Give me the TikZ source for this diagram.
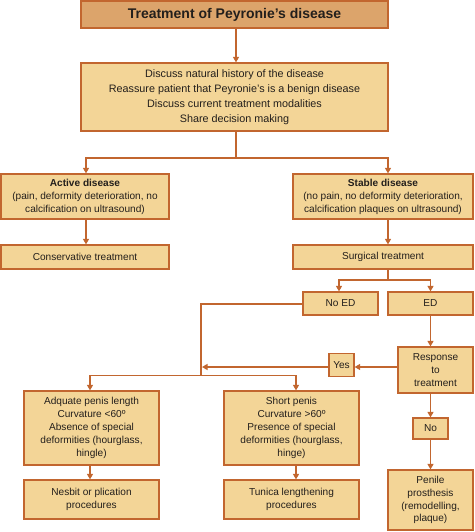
\documentclass[tikz,border=0pt]{standalone}
\usepackage{fontspec}
\setmainfont{Liberation Sans}
\usetikzlibrary{arrows.meta}
\definecolor{edge}{HTML}{C2662F}
\definecolor{boxfill}{HTML}{F3D597}
\definecolor{titlefill}{HTML}{DCA46B}
\definecolor{ink}{HTML}{231F1C}
\tikzset{
  box/.style={draw=edge, fill=boxfill, line width=1.2pt, inner sep=1pt, align=center,
    text=ink, font=\fontsize{10.1}{12.9}\selectfont},
  titlebox/.style={box, fill=titlefill, font=\fontsize{14}{16}\selectfont\bfseries},
  discbox/.style={box, font=\fontsize{10.8}{15}\selectfont},
  conn/.style={draw=edge, line width=1.2pt},
  arr/.style={conn, -{Triangle[length=5.5pt,width=6pt]}},
}
\begin{document}
\begin{tikzpicture}[x=1pt,y=-1pt]
\useasboundingbox (0,0) rectangle (474,532);
\node[titlebox, minimum width=307pt, minimum height=27pt] (title) at (234.5,14.5) {Treatment of Peyronie’s disease};
\node[discbox, minimum width=307pt, minimum height=68pt] (disc) at (234.5,97) {Discuss natural history of the disease\\Reassure patient that Peyronie’s is a benign disease\\Discuss current treatment modalities\\Share decision making};
\node[box, minimum width=168pt, minimum height=45pt] (active) at (85,196.5) {\textbf{Active disease}\\(pain, deformity deterioration, no\\calcification on ultrasound)};
\node[box, minimum width=180pt, minimum height=45pt] (stable) at (383,196.5) {\textbf{Stable disease}\\(no pain, no deformity deterioration,\\calcification plaques on ultrasound)};
\node[box, minimum width=168pt, minimum height=24pt] (cons) at (85,257) {Conservative treatment};
\node[box, minimum width=180pt, minimum height=24pt] (surg) at (383,257) {Surgical treatment};
\node[box, minimum width=75pt, minimum height=23pt] (noed) at (340.5,303.5) {No ED};
\node[box, minimum width=85pt, minimum height=23pt] (ed) at (430.5,303.5) {ED};
\node[box, minimum width=75pt, minimum height=46pt] (resp) at (435.5,370) {Response\\to\\treatment};
\node[box, minimum width=25pt, minimum height=23pt] (yes) at (341.5,365) {Yes};
\node[box, minimum width=35pt, minimum height=21pt] (no) at (430.5,428.5) {No};
\node[box, minimum width=85pt, minimum height=60pt] (pen) at (430.5,500) {Penile\\prosthesis\\(remodelling,\\plaque)};
\node[box, minimum width=135pt, minimum height=74pt] (adeq) at (91.5,428) {Adquate penis length\\Curvature <60º\\Absence of special\\deformities (hourglass,\\hingle)};
\node[box, minimum width=135pt, minimum height=74pt] (short) at (291.5,428) {Short penis\\Curvature >60º\\Presence of special\\deformities (hourglass,\\hinge)};
\node[box, minimum width=135pt, minimum height=39pt] (nesbit) at (91.5,499.5) {Nesbit or plication\\procedures};
\node[box, minimum width=135pt, minimum height=39pt] (tunica) at (291.5,499.5) {Tunica lengthening\\procedures};
% connectors
\coordinate (b1) at (236,158);
\coordinate (b2) at (388,280);
\coordinate (v1) at (201,304);
\coordinate (v2) at (201,375.5);
\draw[arr] (title.south -| b1) -- (disc.north -| b1);
\draw[conn] (disc.south -| b1) -- (b1);
\draw[arr] (b1) -| ([xshift=1pt]active.north);
\draw[arr] (b1) -| (stable.north -| b2);
\draw[arr] ([xshift=1pt]active.south) -- ([xshift=1pt]cons.north);
\draw[arr] (stable.south -| b2) -- (surg.north -| b2);
\draw[conn] (surg.south -| b2) -- (b2);
\draw[arr] (b2) -| ([xshift=-1.5pt]noed.north);
\draw[arr] (b2) -| (ed.north);
\draw[conn] (noed.west |- v1) -- (v1) -- (v2);
\draw[arr] (v2) -| ([xshift=-1.5pt]adeq.north);
\draw[arr] (v2) -| ([xshift=4.5pt]short.north);
\draw[arr] (ed.south) -- (ed.south |- resp.north);
\draw[arr] (resp.west |- 0,367) -- (yes.east |- 0,367);
\draw[arr] (yes.west |- 0,367) -- (202,367);
\draw[arr] (no.north |- resp.south) -- (no.north);
\draw[arr] (no.south) -- (pen.north);
\draw[arr] ([xshift=-1.5pt]adeq.south) -- ([xshift=-1.5pt]nesbit.north);
\draw[arr] ([xshift=4.5pt]short.south) -- ([xshift=4.5pt]tunica.north);
\end{tikzpicture}
\end{document}
